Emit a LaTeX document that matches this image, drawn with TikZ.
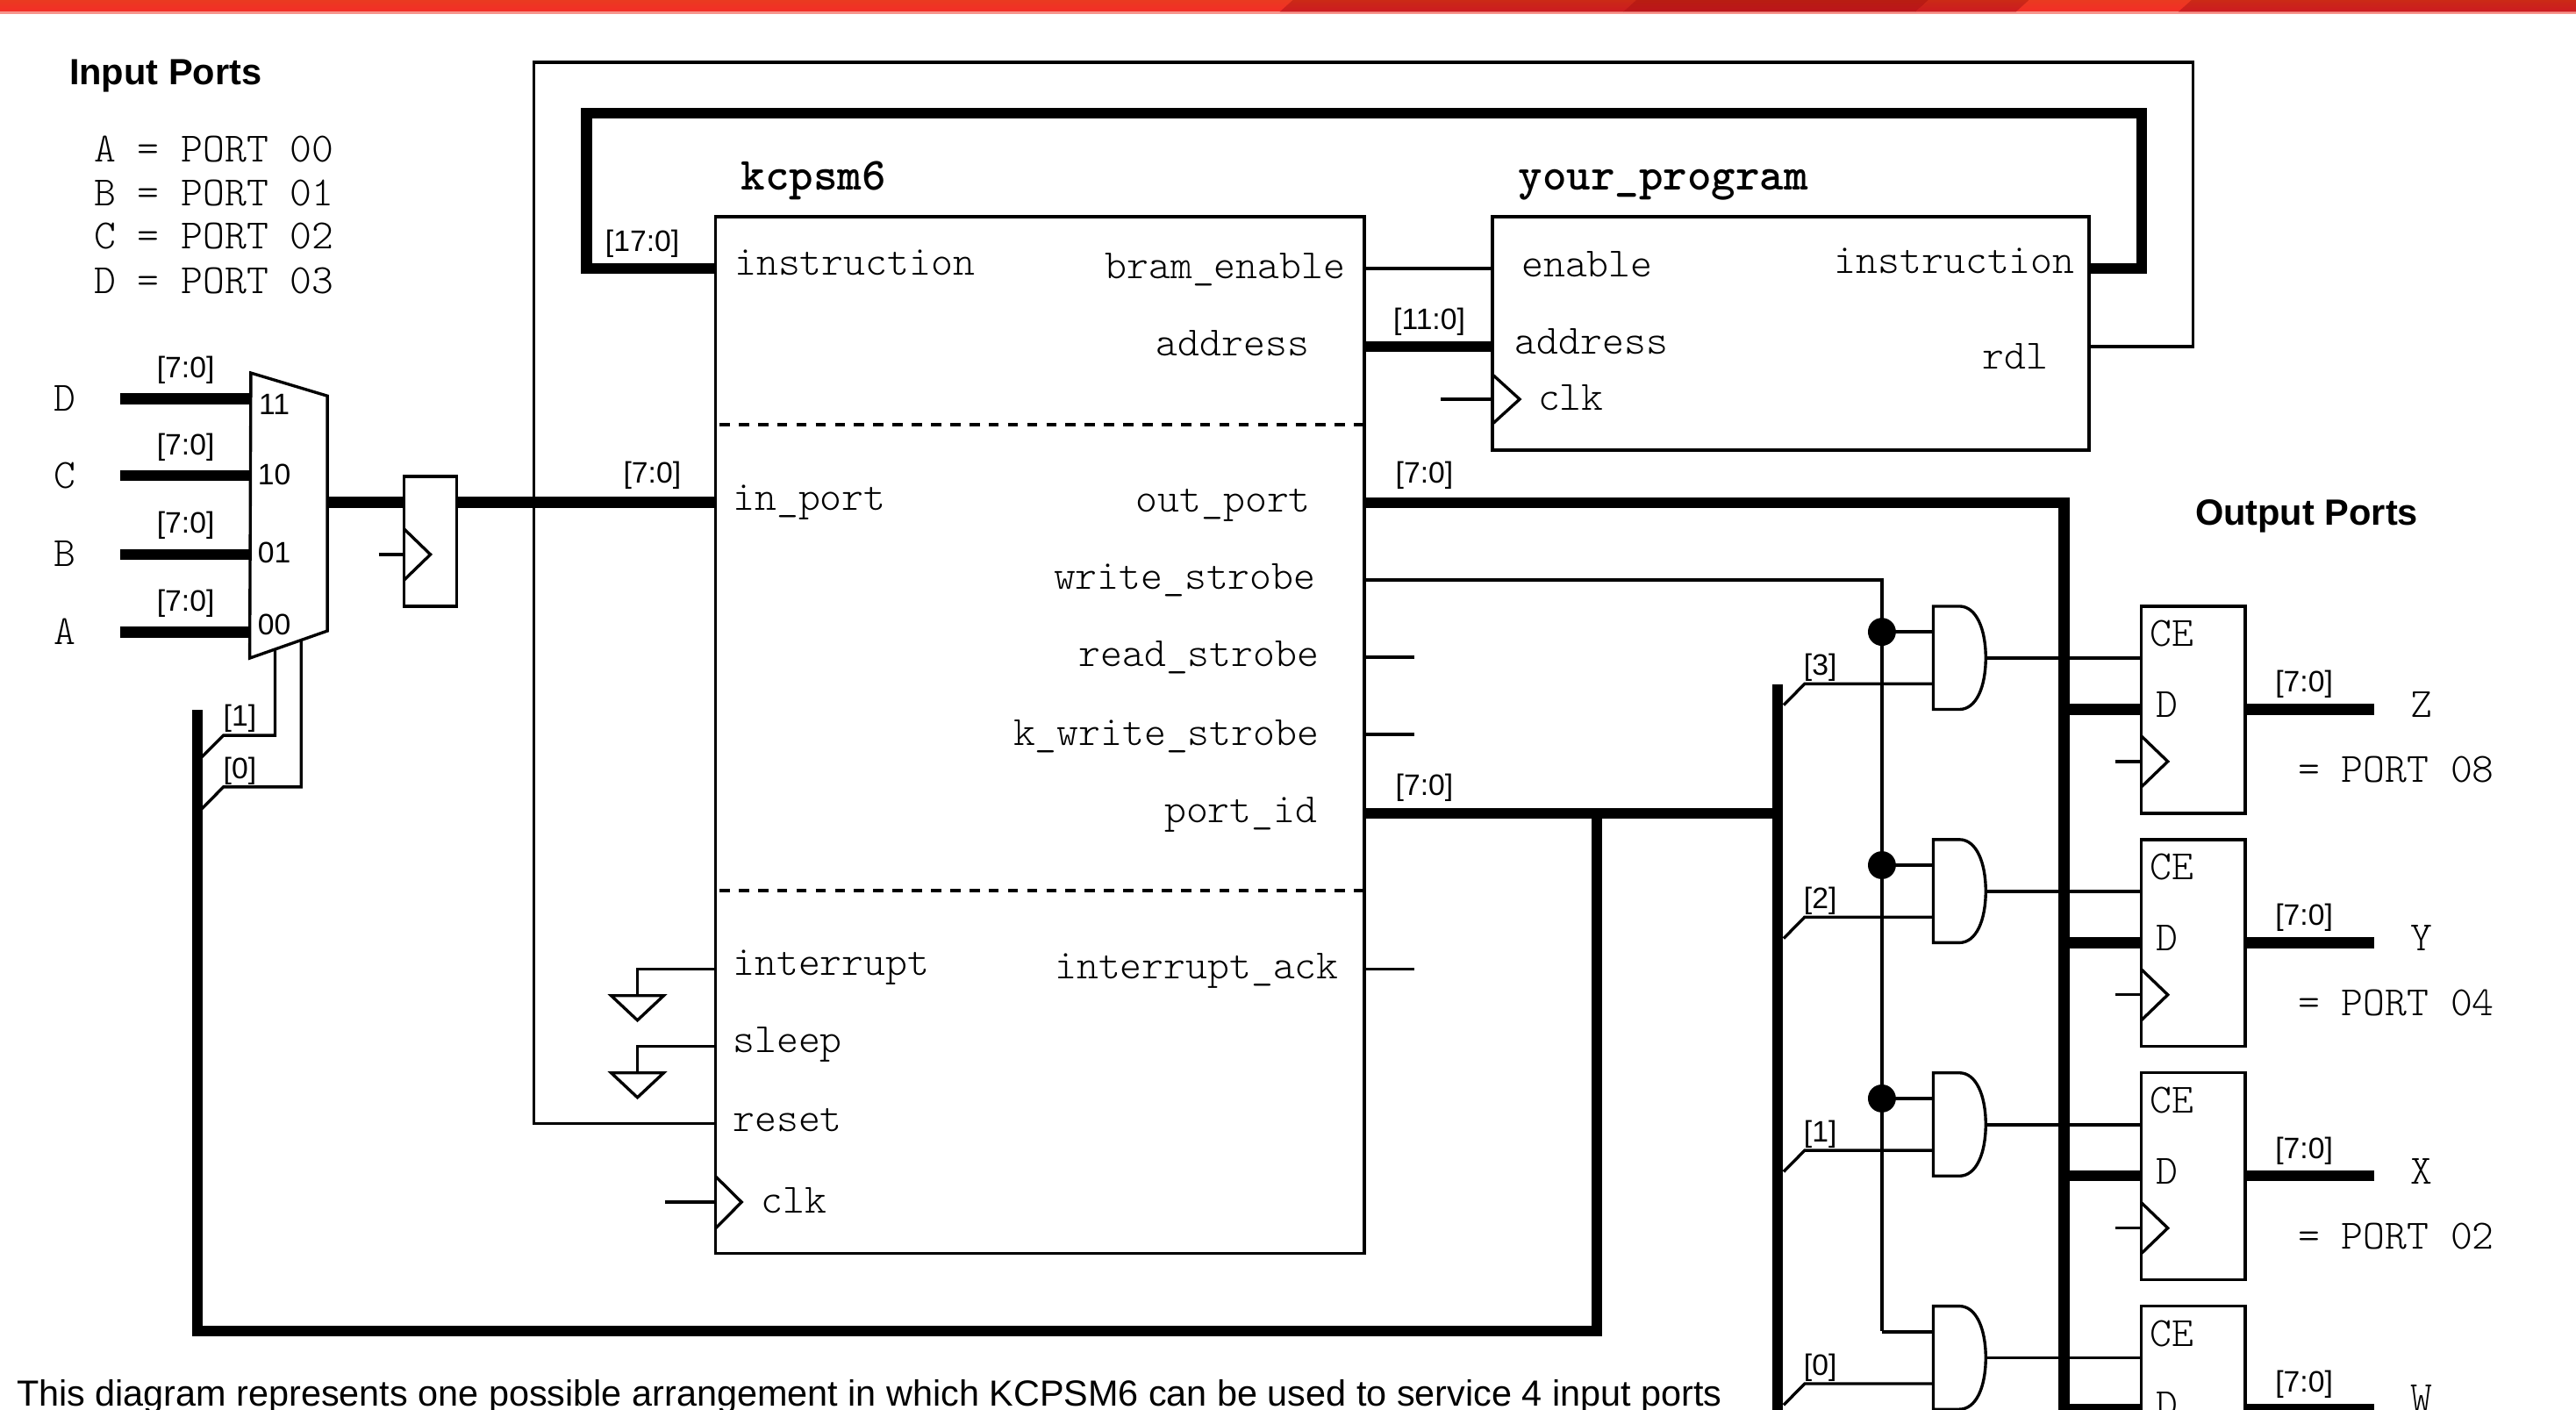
\documentclass[tikz,border=0pt]{standalone}
\usepackage{fontspec}
\setmainfont{Liberation Sans}
\usepackage{tikz}

\definecolor{bandbright}{HTML}{EA3A20}
\definecolor{bandbrightlow}{HTML}{F42C28}
\definecolor{bandmid}{HTML}{CB2A16}
\definecolor{bandmidlow}{HTML}{CC1A22}
\definecolor{banddark}{HTML}{B81D12}
\definecolor{banddarklow}{HTML}{BC141C}
\definecolor{bandpale}{HTML}{F6958C}

\tikzset{
    wire/.style={line width=1.8pt},
    bus/.style={line width=6.6pt},
    block/.style={draw, line width=1.8pt, anchor=north west, inner sep=0pt, outer sep=0pt},
    divider/.style={line width=1.8pt, dash pattern=on 6.2pt off 5.5pt},
    monotxt/.style={inner sep=0pt, text height=15pt, text depth=0pt, font=\fontsize{25.3}{30}\selectfont\ttfamily\fontseries{l}\selectfont},
    monohead/.style={inner sep=0pt, text height=17pt, text depth=0pt, font=\fontsize{28}{32}\selectfont\ttfamily\bfseries},
    bitlabel/.style={inner sep=0pt, yshift=-1.5pt, font=\fontsize{18}{20}\selectfont},
    heading/.style={inner sep=0pt, font=\fontsize{22.2}{26}\selectfont\bfseries}
}

\begin{document}
\begin{tikzpicture}[x=1pt,y=-1pt]
    \useasboundingbox (0,0) rectangle (1568,858.2);
    \clip (0,0) rectangle (1568,858.2);

    % top band
    \shade[top color=bandbright, bottom color=bandbrightlow] (0,0) rectangle (1568,7.2);
    \fill[bandpale] (0,7.2) rectangle (1568,8.6);
    \shade[top color=bandmid, bottom color=bandmidlow] (787,0) -- (779,7.2) -- (988,7.2) -- (996,0) -- cycle;
    \shade[top color=banddark, bottom color=banddarklow] (996,0) -- (988,7.2) -- (1166,7.2) -- (1174,0) -- cycle;
    \shade[top color=bandmid, bottom color=bandmidlow] (1174,0) -- (1166,7.2) -- (1227,7.2) -- (1235,0) -- cycle;
    \shade[top color=bandmid, bottom color=bandmidlow] (1334,0) -- (1326,7.2) -- (1568,7.2) -- (1568,0) -- cycle;

    % headings
    \node[heading, anchor=west] (inputPorts) at (42,46) {Input Ports};
    \node[heading, anchor=west] (outputPorts) at (1336,314) {Output Ports};
    \node[monohead, anchor=west] (kcpsmName) at (451,107) {kcpsm6};
    \node[monohead, anchor=west] (programName) at (924,107) {your\_program};
    \node[monotxt, anchor=west] (legendA) at (57,91) {A = PORT 00};
    \node[monotxt, anchor=west] (legendB) at (57,117.5) {B = PORT 01};
    \node[monotxt, anchor=west] (legendC) at (57,144) {C = PORT 02};
    \node[monotxt, anchor=west] (legendD) at (57,171) {D = PORT 03};

    % main blocks
    \node[block, minimum width=395pt, minimum height=631pt] (kcpsm) at (435.5,132) {};
    \node[block, minimum width=363pt, minimum height=142pt] (program) at (908.5,132) {};
    \draw[divider] ([xshift=2.5pt]kcpsm.west |- 0,258.5) -- (kcpsm.east |- 0,258.5);
    \draw[divider] ([xshift=2.5pt]kcpsm.west |- 0,542) -- (kcpsm.east |- 0,542);

    % kcpsm6 pins
    \foreach \pin/\txt/\x/\y in {instrText/instruction/447/160, inText/in\_port/446/303, intText/interrupt/446/586,
        sleepText/sleep/446/633, resetText/reset/446/681, clkText/clk/463/731,
        enableText/enable/926/161, addrInText/address/922/208, clkProgText/clk/936/242}
        \node[monotxt, anchor=west] (\pin) at (\x,\y) {\txt};
    \foreach \pin/\txt/\x/\y in {bramText/bram\_enable/819/162, addrText/address/797/209, outText/out\_port/798/304,
        writeText/write\_strobe/801/351, readText/read\_strobe/803/398, kwriteText/k\_write\_strobe/803/446,
        idText/port\_id/802/493, ackText/interrupt\_ack/815/588, instrOutText/instruction/1263/159, rdlText/rdl/1247/217}
        \node[monotxt, anchor=east] (\pin) at (\x,\y) {\txt};

    \coordinate (instrPin) at (435.5,163.5);
    \coordinate (inPin) at (435.5,305.8);
    \coordinate (intPin) at (435.5,590);
    \coordinate (sleepPin) at (435.5,637);
    \coordinate (resetPin) at (435.5,684);
    \coordinate (bramPin) at (830.5,163.5);
    \coordinate (addrPin) at (830.5,211);
    \coordinate (outPin) at (830.5,306);
    \coordinate (writePin) at (830.5,353);
    \coordinate (idPin) at (830.5,495);
    \coordinate (enablePin) at (908.5,163.5);
    \coordinate (addrInPin) at (908.5,211);
    \coordinate (instrOutPin) at (1271.5,163.5);
    \coordinate (rdlPin) at (1271.5,211);

    % program memory connections
    \draw[wire] (bramPin) -- (enablePin);
    \draw[bus] (addrPin) -- (addrInPin);
    \draw[bus, line join=miter] (instrPin) -| (357,69) -| (1303.5,163.5) -- (instrOutPin);
    \draw[wire] (rdlPin) -| (1335,38) -| (325,684) -- (resetPin);
    \node[bitlabel] (instrBits) at (391,147) {[17:0]};
    \node[bitlabel] (addrBits) at (870,194.5) {[11:0]};

    % unused outputs
    \foreach \y in {400,447,590}
        \draw[wire] (830.5,\y) -- (861,\y);

    % grounded inputs
    \coordinate (gndInt) at (388,606);
    \coordinate (gndSleep) at (388,653);
    \draw[wire] (intPin) -| (gndInt);
    \draw[wire] (sleepPin) -| (gndSleep);
    \draw[wire] (372,606) -- (404,606) -- (388,621) -- cycle;
    \draw[wire] (372,653) -- (404,653) -- (388,668) -- cycle;

    % clocks
    \coordinate (clkMain) at (435.5,731.7);
    \draw[wire] (404.8,731.7) -- (clkMain);
    \draw[wire] (435.5,716) -- (451.4,731.7) -- (435.5,747.7);
    \coordinate (clkProg) at (908.5,243);
    \draw[wire] (877,243) -- (clkProg);
    \draw[wire] (908.5,228) -- (925,243) -- (908.5,258);

    % input multiplexer
    \draw[wire, fill=white] (152.7,227) -- (199.3,241) -- (199.3,384) -- (152,400.6) -- cycle;
    \coordinate (muxOut) at (199.3,305.8);
    \foreach \name/\sel/\ysel/\y in {D/11/244.5/242.7, C/10/287.2/289.6, B/01/335.1/337.5, A/00/378.5/384.8}{
        \node[monotxt] (port\name) at (39.5,\y) {\name};
        \coordinate (muxIn\name) at (152.5,\y);
        \draw[bus] (73,\y) -- (muxIn\name);
        \node[bitlabel] (bits\name) at (113,\y-19) {[7:0]};
        \node[bitlabel] (sel\sel) at (167,\ysel) {\sel};
    }

    % input register
    \node[block, minimum width=32pt, minimum height=79pt] (inReg) at (246,290) {};
    \draw[bus] (muxOut) -- (inReg.west |- muxOut);
    \draw[bus] (inReg.east |- muxOut) -- (inPin);
    \draw[wire] (230.5,337.5) -- (246,337.5);
    \draw[wire] (246,322) -- (262,337.5) -- (246,353);
    \node[bitlabel] (inBits) at (397,288) {[7:0]};

    % mux select
    \draw[bus, line join=miter] (idPin) -- (972,495) |- (120,810) -- (120,432);
    \draw[wire] (167.4,395) |- (136,447.6) -- (122.6,461);
    \draw[wire] (183.3,390) |- (136,479) -- (122.6,492.5);
    \node[bitlabel] (selOne) at (146,436) {[1]};
    \node[bitlabel] (selZero) at (146,468) {[0]};

    % output side
    \draw[bus] (idPin) -- (1082,495);
    \draw[bus] (1082,416.5) -- (1082,870);
    \draw[bus, line join=miter] (outPin) -| (1256.4,870);
    \node[bitlabel] (outBits) at (867,288) {[7:0]};
    \node[bitlabel] (idBits) at (867,478) {[7:0]};
    \draw[wire] (writePin) -| (1145.5,810.3);

    \foreach \i/\y/\name/\ny in {3/369/Z/60,2/511/Y/60,1/653/X/60,0/795/W/56}{
        % decode gate
        \node[inner sep=0pt, minimum width=32pt, minimum height=62.8pt, anchor=north west] (gate\i) at (1176.8,\y) {};
        \draw[wire] (1192.6,\y) -- (1176.8,\y) -- (1176.8,\y+62.8) -- (1192.6,\y+62.8)
            .. controls (1203,\y+62.8) and (1208.7,\y+49) .. (1208.7,\y+31.4)
            .. controls (1208.7,\y+14) and (1203,\y) .. (1192.6,\y);
        \coordinate (gate\i a) at (1176.8,\y+15.6);
        \coordinate (gate\i b) at (1176.8,\y+47.2);
        \draw[wire] (1145.5,\y+15.6) -- (gate\i a);
        \draw[wire] (1085.7,\y+60.2) -- (1098.5,\y+47.2) -- (gate\i b);
        \node[bitlabel] (decode\i) at (1108,\y+35.8) {[\i]};
        % output register
        \node[block, minimum width=63.2pt, minimum height=126pt] (reg\i) at (1303.4,\y) {};
        \draw[wire] (gate\i.east) -- (reg\i.west |- gate\i.east);
        \draw[bus] (1256.4,\y+62.8) -- (reg\i.west |- 0,\y+62.8);
        \coordinate (reg\i out) at (reg\i.east |- 0,\y+62.8);
        \draw[bus] (reg\i out) -- (1445,\y+62.8);
        \draw[wire] (1287.6,\y+94.5) -- (1303.4,\y+94.5);
        \draw[wire] (1303.4,\y+79) -- (1319.5,\y+94.5) -- (1303.4,\y+110);
        \node[monotxt] (ce\i) at (1322,\y+17) {CE};
        \node[monotxt] (d\i) at (1319,\y+60) {D};
        \node[monotxt] (name\name) at (1473.7,\y+\ny) {\name};
        \node[bitlabel] (regBits\i) at (1402.5,\y+46) {[7:0]};
    }
    \foreach \i/\y/\txt in {3/468.7/08,2/610.7/04,1/752.7/02}
        \node[monotxt, anchor=west] (addr\i) at (1398.5,\y) {= PORT \txt};

    \foreach \y in {384.6,526.6,668.6}
        \fill (1145.5,\y) circle (8.5pt);

    \node[inner sep=0pt, anchor=west, font=\fontsize{22.1}{26}\selectfont] (caption) at (10,850) {This diagram represents one possible arrangement in which KCPSM6 can be used to service 4 input ports};
\end{tikzpicture}
\end{document}
